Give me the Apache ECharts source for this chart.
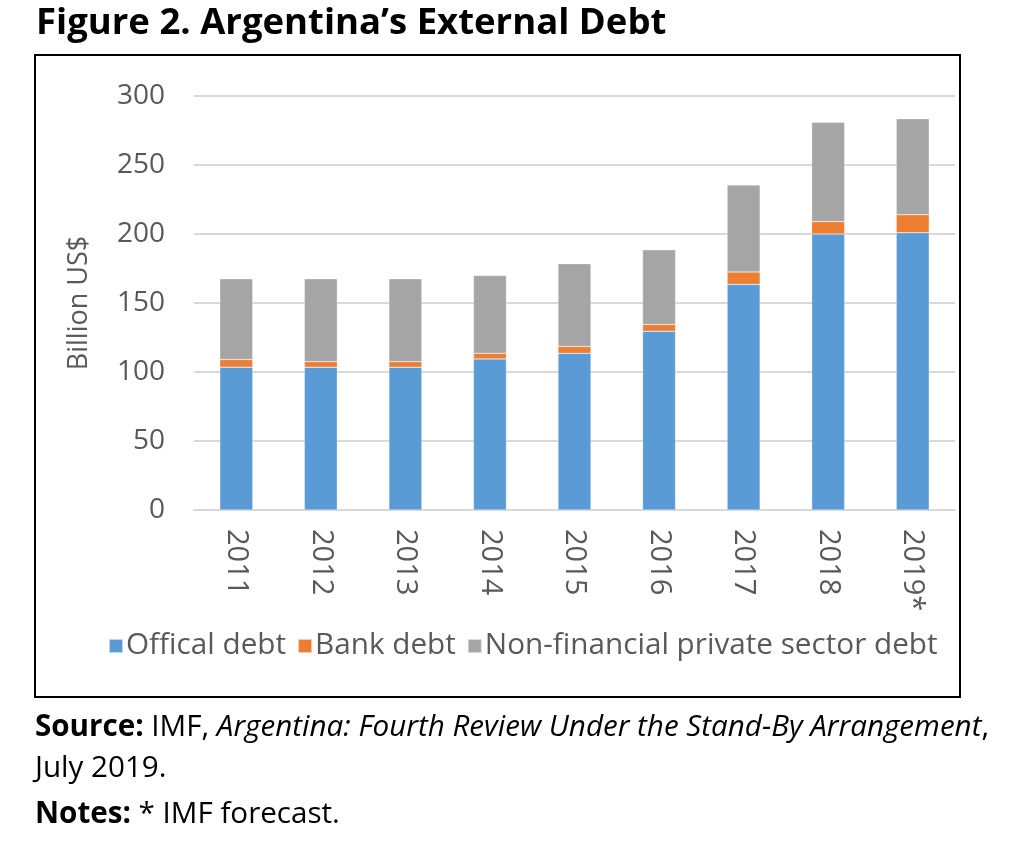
<!DOCTYPE html>
<html>
<head>
<meta charset="utf-8">
<script src="https://cdn.jsdelivr.net/npm/echarts@6/dist/echarts.min.js"></script>
<style>
html,body{margin:0;padding:0;background:#fff;}
#chart{width:1024px;height:853px;}
</style>
</head>
<body>
<div id="chart"></div>
<script>
const years = ['2011','2012','2013','2014','2015','2016','2017','2018','2019*'];
const officialDebt = [103.5, 103.5, 103.5, 109.5, 113.5, 129.5, 163.5, 200, 201];
const bankDebt = [5.5, 4, 4, 4, 5, 5, 9, 9, 13];
const privateDebt = [58.5, 60, 60, 56.5, 60, 54, 63, 72, 69.5];
const yTicks = [0, 50, 100, 150, 200, 250, 300];

const chart = echarts.init(document.getElementById('chart'), null, {renderer:'canvas'});
const fontFam = '"Open Sans", Lato, sans-serif';
const labelColor = '#595959';

function bar(name, data, color){
  return {
    name, type:'bar', stack:'debt', data,
    barCategoryGap:'61%',
    itemStyle:{color, borderColor:'rgba(255,255,255,0.6)', borderWidth:0.5},
    emphasis:{disabled:true}
  };
}

chart.setOption({
  animation:false,
  backgroundColor:'#fff',
  title:{
    text:'Figure 2. Argentina\u2019s External Debt',
    left:31, top:0,
    textStyle:{fontFamily:fontFam, fontWeight:'bold', fontSize:36.5, color:'#000'}
  },
  grid:{left:194, right:69, top:96, bottom:343, containLabel:false},
  legend:{
    left:103, top:626,
    itemWidth:14, itemHeight:14, itemGap:11,
    icon:'rect',
    textStyle:{fontFamily:fontFam, fontSize:29.7, color:labelColor, padding:[0,0,0,-2]},
    data:['Offical debt','Bank debt','Non-financial private sector debt']
  },
  xAxis:{
    type:'category', data:years,
    axisLine:{show:true, lineStyle:{color:'#d9d9d9', width:2}},
    axisTick:{show:false},
    axisLabel:{rotate:-90, fontFamily:fontFam, fontSize:29, color:labelColor, margin:19}
  },
  yAxis:{
    type:'value', min:yTicks[0], max:yTicks[yTicks.length-1], interval:50,
    name:'Billion US$', nameLocation:'middle', nameGap:101, nameRotate:90,
    nameTextStyle:{fontFamily:fontFam, fontSize:27, color:labelColor},
    axisLine:{show:false}, axisTick:{show:false},
    axisLabel:{fontFamily:fontFam, fontSize:28, color:labelColor, margin:29},
    splitLine:{lineStyle:{color:'#d9d9d9', width:2}}
  },
  series:[
    bar('Offical debt', officialDebt, '#5B9BD5'),
    bar('Bank debt', bankDebt, '#ED7D31'),
    bar('Non-financial private sector debt', privateDebt, '#A5A5A5')
  ],
  graphic:[
    {type:'rect', shape:{x:35, y:55, width:925, height:642},
     style:{fill:'none', stroke:'#000', lineWidth:2}, z:-1, silent:true},
    {type:'text', left:35, top:707,
     style:{
       text:'{b|Source:} IMF, {i|Argentina: Fourth Review Under the Stand-By Arrangement},\nJuly 2019.',
       rich:{
         b:{fontFamily:fontFam, fontWeight:'bold', fontSize:29.6, fill:'#000'},
         i:{fontFamily:fontFam, fontStyle:'italic', fontSize:29.6, fill:'#000'}
       },
       fontFamily:fontFam, fontSize:29.6, fill:'#000', lineHeight:41
     }},
    {type:'text', left:35, top:800,
     style:{
       text:'{b|Notes:} * IMF forecast.',
       rich:{b:{fontFamily:fontFam, fontWeight:'bold', fontSize:29.6, fill:'#000'}},
       fontFamily:fontFam, fontSize:29.6, fill:'#000'
     }}
  ]
});
</script>
</body>
</html>
